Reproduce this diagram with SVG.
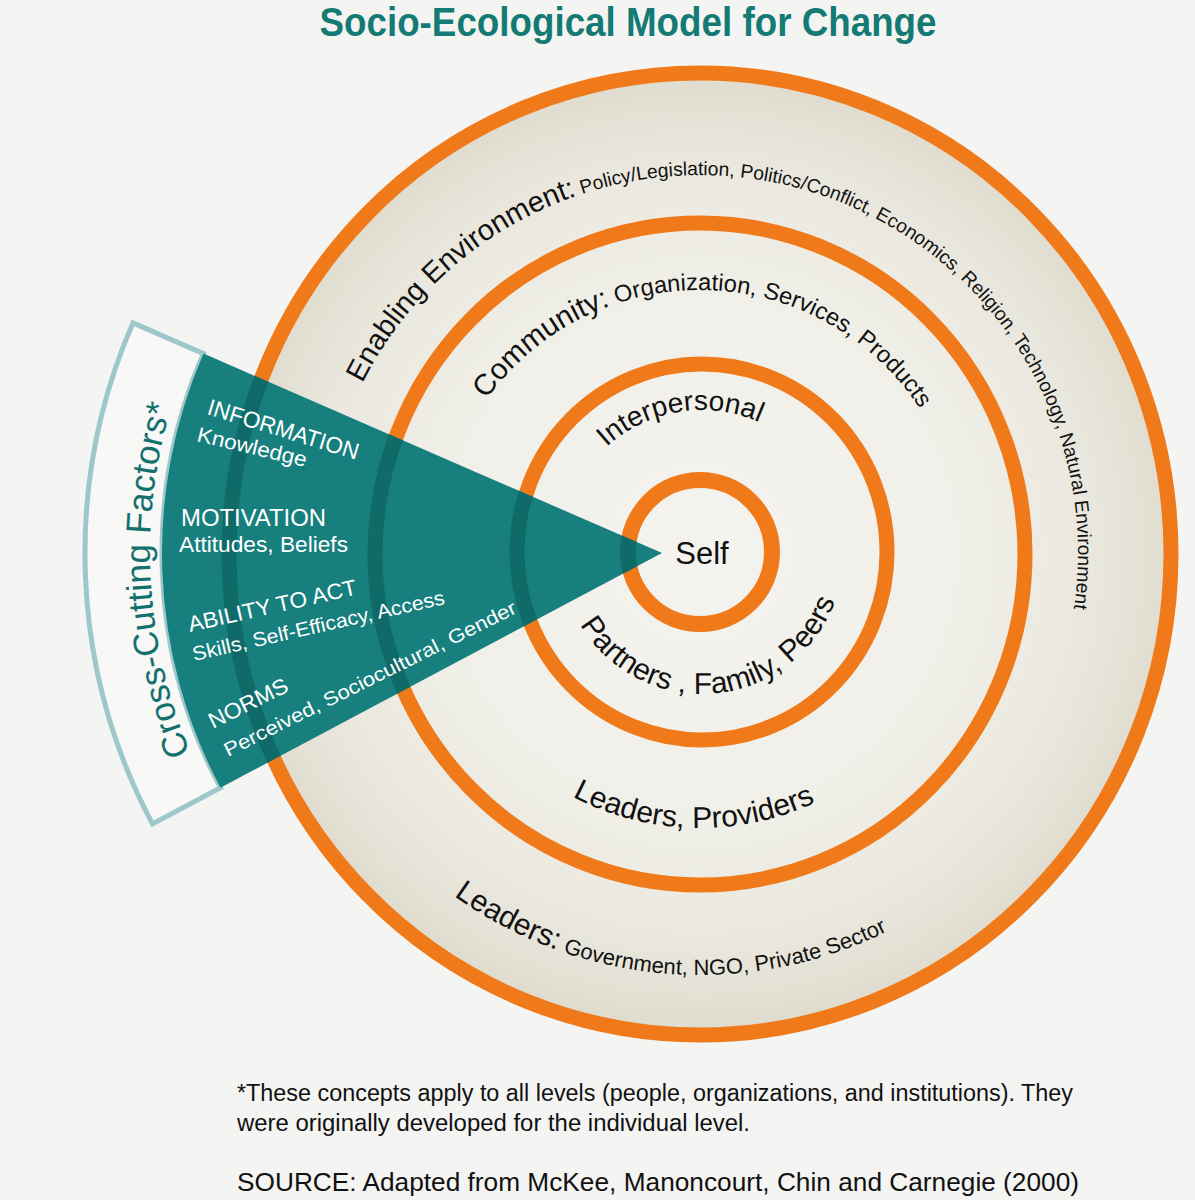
<svg xmlns="http://www.w3.org/2000/svg" width="1195" height="1200" viewBox="0 0 1195 1200">
<style>
.ring{fill:none;stroke:#f07a1a;}
.dark{fill:none;stroke:#0f6a68;}
.lbl{font-family:"Liberation Sans","Open Sans",sans-serif;fill:#111;}
.wt{font-family:"Liberation Sans","Open Sans",sans-serif;fill:#ffffff;}
.foot{font-family:"Liberation Sans","Open Sans",sans-serif;fill:#111;}
</style>
<defs>
<radialGradient id="disk" gradientUnits="userSpaceOnUse" cx="700" cy="553" r="485">
<stop offset="0" stop-color="#f4f3ef"/>
<stop offset="0.55" stop-color="#f0efe8"/>
<stop offset="0.8" stop-color="#eae8de"/>
<stop offset="1" stop-color="#dedbcd"/>
</radialGradient>
<clipPath id="wedgeClip"><path d="M662 553 L203.5 353.6 A500 500 0 0 0 220.5 787.7 Z"/></clipPath>
<path id="pOuterTop" d="M322 553 A378 378 0 0 1 1078 553 A378 378 0 0 1 322 553"/>
<path id="pCommTop" d="M437 553 A263 263 0 0 1 963 553 A263 263 0 0 1 437 553"/>
<path id="pInterTop" d="M560 552 A142 142 0 0 1 844 552 A142 142 0 0 1 560 552"/>
<path id="pInterBot" d="M560 552 A142 142 0 0 0 844 552 A142 142 0 0 0 560 552"/>
<path id="pLeadProv" d="M425 553 A275 275 0 0 0 975 553 A275 275 0 0 0 425 553"/>
<path id="pLeadBot" d="M278 553 A422 422 0 0 0 1122 553 A422 422 0 0 0 278 553"/>
<path id="pCross" d="M218.6 809 A512 512 0 0 1 218.6 297"/>
</defs>
<rect x="0" y="0" width="1195" height="1200" fill="#f4f4f2"/>

<text id="title" x="628" y="36" text-anchor="middle" font-family="Liberation Sans, Arial, sans-serif" font-weight="bold" font-size="40" fill="#147a74" textLength="617" lengthAdjust="spacingAndGlyphs">Socio-Ecological Model for Change</text>

<g id="rings">
<ellipse cx="700" cy="554" rx="478" ry="488" fill="url(#disk)"/>
<g id="ring-outer"><ellipse class="ring" cx="700" cy="554" rx="471" ry="481" stroke-width="15"/></g>
<g id="ring-community"><ellipse class="ring" cx="700" cy="554" rx="325" ry="331" stroke-width="15"/></g>
<g id="ring-interpersonal"><ellipse class="ring" cx="702" cy="552" rx="185" ry="188" stroke-width="15"/></g>
<g id="ring-self"><circle class="ring" cx="700" cy="552" r="72" stroke-width="16"/></g>
</g>

<g id="cross-cutting">
<path d="M203.5 353.6 L132.9 322.9 A577 577 0 0 0 152.5 823.9 L220.5 787.7 A500 500 0 0 1 203.5 353.6 Z" fill="#f8f8f7" stroke="#9ec7c9" stroke-width="5" stroke-linejoin="miter"/>
<text font-family="Liberation Sans, Open Sans, sans-serif" font-size="35" fill="#12706d"><textPath href="#pCross" startOffset="240" text-anchor="middle">Cross-Cutting Factors*</textPath></text>
</g>

<g id="wedge">
<path d="M662 553 L203.5 353.6 A500 500 0 0 0 220.5 787.7 Z" fill="#177f7e"/>
<g clip-path="url(#wedgeClip)">
<ellipse class="dark" cx="700" cy="554" rx="471" ry="481" stroke-width="15"/>
<ellipse class="dark" cx="700" cy="554" rx="325" ry="331" stroke-width="15"/>
<ellipse class="dark" cx="702" cy="552" rx="185" ry="188" stroke-width="15"/>
<circle class="dark" cx="700" cy="552" r="72" stroke-width="16"/>
</g>
<text class="wt" font-size="23" transform="translate(206 414) rotate(17)" textLength="157" lengthAdjust="spacingAndGlyphs">INFORMATION</text>
<text class="wt" font-size="21" transform="translate(196 441) rotate(13.4)" textLength="112" lengthAdjust="spacingAndGlyphs">Knowledge</text>
<text class="wt" font-size="23" x="181" y="526" textLength="145" lengthAdjust="spacingAndGlyphs">MOTIVATION</text>
<text class="wt" font-size="21.5" x="179" y="552" textLength="169" lengthAdjust="spacingAndGlyphs">Attitudes, Beliefs</text>
<text class="wt" font-size="22" transform="translate(190 632) rotate(-12.7)" textLength="172" lengthAdjust="spacingAndGlyphs">ABILITY TO ACT</text>
<text class="wt" font-size="20" transform="translate(194 661) rotate(-12.8)" textLength="258" lengthAdjust="spacingAndGlyphs">Skills, Self-Efficacy, Access</text>
<text class="wt" font-size="22" transform="translate(213 729) rotate(-26.5)" textLength="86" lengthAdjust="spacingAndGlyphs">NORMS</text>
<text class="wt" font-size="19.5" transform="translate(228 757) rotate(-26.5)" textLength="324" lengthAdjust="spacingAndGlyphs">Perceived, Sociocultural, Gender</text>
</g>

<g id="labels">
<text class="lbl"><textPath href="#pOuterTop" startOffset="176"><tspan font-size="29">Enabling Environment:</tspan><tspan font-size="19.3"> Policy/Legislation, Politics/Conflict, Economics, Religion, Technology, Natural Environment</tspan></textPath></text>
<text class="lbl"><textPath href="#pCommTop" startOffset="164"><tspan font-size="29.5">Community:</tspan><tspan font-size="23.7"> Organization, Services, Products</tspan></textPath></text>
<text class="lbl" font-size="28"><textPath href="#pInterTop" startOffset="200" text-anchor="middle">Interpersonal</textPath></text>
<text class="lbl" font-size="30"><textPath href="#pInterBot" startOffset="236" text-anchor="middle">Partners , Family, Peers</textPath></text>
<text class="lbl" font-size="30"><textPath href="#pLeadProv" startOffset="425" text-anchor="middle">Leaders, Providers</textPath></text>
<text class="lbl"><textPath href="#pLeadBot" startOffset="400"><tspan font-size="30">Leaders:</tspan><tspan font-size="22"> Government, NGO, Private Sector</tspan></textPath></text>
<text id="self" class="lbl" font-size="31" x="702" y="564" text-anchor="middle">Self</text>
</g>

<g id="footnotes">
<text class="foot" font-size="23" x="237" y="1101" textLength="836" lengthAdjust="spacingAndGlyphs">*These concepts apply to all levels (people, organizations, and institutions). They</text>
<text class="foot" font-size="23" x="237" y="1131" textLength="513" lengthAdjust="spacingAndGlyphs">were originally developed for the individual level.</text>
<text class="foot" font-size="25" x="237" y="1191" textLength="842" lengthAdjust="spacingAndGlyphs">SOURCE: Adapted from McKee, Manoncourt, Chin and Carnegie (2000)</text>
</g>
</svg>
